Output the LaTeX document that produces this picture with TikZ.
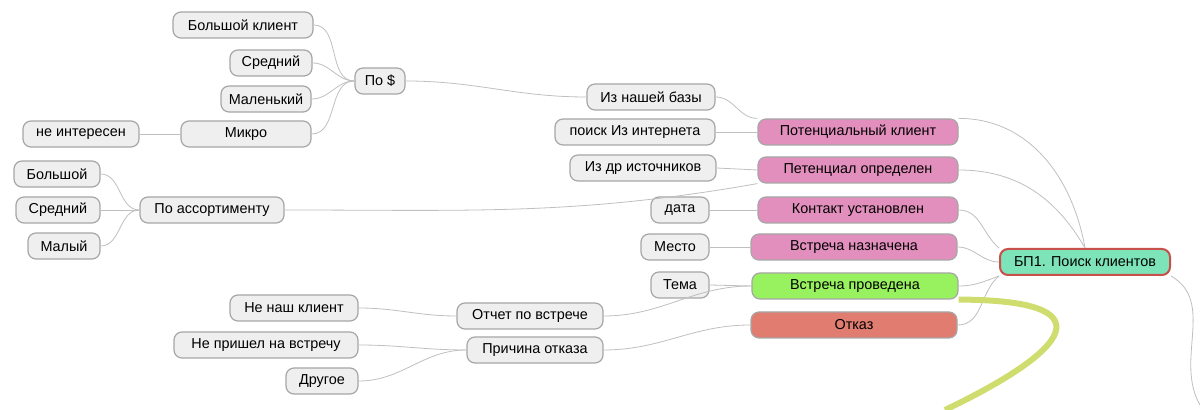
\documentclass[tikz,border=0pt]{standalone}
\usepackage{fontspec}
\setmainfont{Liberation Sans}
\definecolor{boxgray}{HTML}{EFEFEF}
\definecolor{pinkbox}{HTML}{E38FBE}
\definecolor{greenbox}{HTML}{98F15F}
\definecolor{redbox}{HTML}{E07C70}
\definecolor{tealbox}{HTML}{7DE3B8}
\definecolor{rootborder}{HTML}{C8504A}
\definecolor{limeline}{HTML}{CFDD6E}
\tikzset{
  topic/.style={draw=gray!70, fill=boxgray, rounded corners=4pt, font=\fontsize{7.2}{8}\selectfont,
    minimum height=13pt, inner sep=2pt, line width=0.6pt},
  link/.style={draw=gray!50, line width=0.4pt}
}
\begin{document}
\begin{tikzpicture}[x=0.5pt, y=-0.5pt]
    \useasboundingbox (0,0) rectangle (1200,410);
    % root and main steps
    \node[topic, fill=tealbox, draw=rootborder, line width=1pt, minimum width=85pt] (root) at (1085,262) {БП1. Поиск клиентов};
    \node[topic, fill=pinkbox, minimum width=100pt] (potent) at (858,132) {Потенциальный клиент};
    \node[topic, fill=pinkbox, minimum width=100pt] (opred) at (858,170) {Петенциал определен};
    \node[topic, fill=pinkbox, minimum width=100pt] (kontakt) at (858,210) {Контакт установлен};
    \node[topic, fill=pinkbox, minimum width=103pt] (naznach) at (854,247) {Встреча назначена};
    \node[topic, fill=greenbox, minimum width=103pt] (proved) at (855,286) {Встреча проведена};
    \node[topic, fill=redbox, minimum width=103pt] (otkaz) at (854,325) {Отказ};

    % sources
    \node[topic, minimum width=64pt] (baza) at (651,97) {Из нашей базы};
    \node[topic, minimum width=80pt] (inet) at (635,132) {поиск Из интернета};
    \node[topic, minimum width=73pt] (drist) at (643,168) {Из др источников};
    \node[topic, minimum width=25pt] (poden) at (380,81) {По \$};
    \node[topic, minimum width=70pt] (bolkl) at (243,25) {Большой клиент};
    \node[topic, minimum width=41pt] (sred) at (271,63) {Средний};
    \node[topic, minimum width=45pt] (mal) at (266,99) {Маленький};
    \node[topic, minimum width=65pt] (mikro) at (246,134) {Микро};
    \node[topic, minimum width=58pt] (neint) at (81,134) {не интересен};
    \node[topic, minimum width=72pt] (assort) at (212,210) {По ассортименту};
    \node[topic, minimum width=43pt] (bolsh) at (57,174) {Большой};
    \node[topic, minimum width=42pt] (sred2) at (58,210) {Средний};
    \node[topic, minimum width=36pt] (malyi) at (64,246) {Малый};

    % details
    \node[topic, minimum width=29pt] (data) at (680,210) {дата};
    \node[topic, minimum width=34pt] (mesto) at (675,247) {Место};
    \node[topic, minimum width=29pt] (tema) at (680,285) {Тема};
    \node[topic, minimum width=73pt] (otchet) at (530,316) {Отчет по встрече};
    \node[topic, minimum width=68pt] (prich) at (535,350) {Причина отказа};
    \node[topic, minimum width=64pt] (nenash) at (294,308) {Не наш клиент};
    \node[topic, minimum width=92pt] (neprish) at (266,345) {Не пришел на встречу};
    \node[topic, minimum width=36pt] (drugoe) at (322,381) {Другое};

    % connectors
    \draw[link] (potent.north east) to[out=0,in=100] (root.north);
    \draw[link] (opred.east) to[out=0,in=120] (root.north);
    \draw[link] (kontakt.east) to[out=0,in=140] (root.north west);
    \draw[link] (naznach.east) to[out=0,in=180] (root.west);
    \draw[link] (proved.east) to[out=0,in=200] (root.south west);
    \draw[link] (otkaz.east) to[out=0,in=220] (root.south west);
    \coordinate (off) at (1200,405);
    \draw[link] (root.south east) to[out=-30,in=120] (off);
    \coordinate (swirl) at (945,410);
    \draw[limeline, line width=3pt] (proved.south east) .. controls (1110,300) and (1070,350) .. (swirl);

    \draw[link] (baza.east) to[out=0,in=180] (potent.north west);
    \draw[link] (inet.east) -- (potent.west);
    \draw[link] (drist.east) -- (opred.west);
    \draw[link] (poden.east) to[out=0,in=180] (baza.west);
    \draw[link] (bolkl.east) to[out=0,in=180] (poden.west);
    \draw[link] (sred.east) to[out=0,in=180] (poden.west);
    \draw[link] (mal.east) to[out=0,in=180] (poden.west);
    \draw[link] (mikro.east) to[out=0,in=180] (poden.west);
    \draw[link] (neint.east) -- (mikro.west);
    \draw[link] (assort.east) to[out=0,in=190] (opred.south west);
    \draw[link] (bolsh.east) to[out=0,in=180] (assort.west);
    \draw[link] (sred2.east) -- (assort.west);
    \draw[link] (malyi.east) to[out=0,in=180] (assort.west);
    \draw[link] (data.east) -- (kontakt.west);
    \draw[link] (mesto.east) -- (naznach.west);
    \draw[link] (tema.east) -- (proved.west);
    \draw[link] (otchet.east) to[out=0,in=180] (proved.west);
    \draw[link] (prich.east) to[out=0,in=180] (otkaz.west);
    \draw[link] (nenash.east) to[out=0,in=180] (otchet.west);
    \draw[link] (neprish.east) to[out=0,in=180] (prich.west);
    \draw[link] (drugoe.east) to[out=0,in=180] (prich.west);
\end{tikzpicture}
\end{document}
